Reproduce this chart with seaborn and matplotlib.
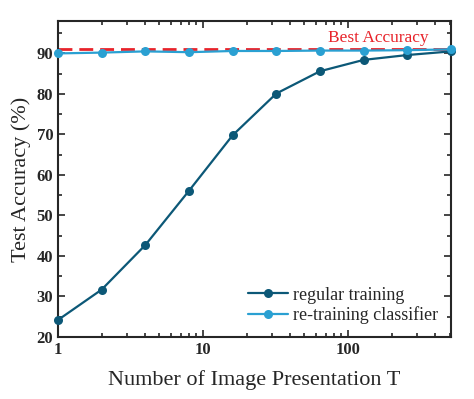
import numpy as np
import pandas as pd
import matplotlib
matplotlib.use("Agg")
import matplotlib.pyplot as plt
import seaborn as sns
from matplotlib.ticker import FixedLocator, NullFormatter

# data
T = [1, 2, 4, 8, 16, 32, 64, 128, 256, 512]
regular = [24.2, 31.7, 42.7, 56.1, 69.8, 80.1, 85.6, 88.4, 89.6, 90.5]
retrain = [90.0, 90.2, 90.5, 90.3, 90.6, 90.6, 90.7, 90.7, 90.8, 91.0]
best_acc = 91.0

df = pd.DataFrame({"T": T * 2,
                   "acc": regular + retrain,
                   "method": ["regular training"] * len(T) + ["re-training classifier"] * len(T)})

sns.set_style("ticks")
plt.rcParams["font.family"] = ["Liberation Serif", "DejaVu Serif"]

fig = plt.figure(figsize=(4.74, 3.99), dpi=100)
ax = fig.add_axes([58 / 474, 62 / 399, 393 / 474, 316 / 399])

ax.axhline(best_acc, color="#e8232a", ls=(0, (5, 2.5)), lw=2, zorder=1)
sns.lineplot(data=df, x="T", y="acc", hue="method",
             palette=["#0c5877", "#2aa0d2"], marker="o", markersize=6.5,
             markeredgewidth=0, lw=1.6, ax=ax, zorder=3, clip_on=False)

ax.set_xscale("log")
ax.set_xlim(1, 512)
ax.set_ylim(20, 98)
ax.set_xticks([1, 10, 100])
ax.set_xticklabels(["1", "10", "100"])
ax.xaxis.set_minor_locator(FixedLocator([k * 10 ** d for d in range(3) for k in range(2, 10) if k * 10 ** d < 512]))
ax.xaxis.set_minor_formatter(NullFormatter())
ax.set_yticks([20, 30, 40, 50, 60, 70, 80, 90])
ax.yaxis.set_minor_locator(FixedLocator(np.arange(25, 98, 10)))

ax.tick_params(which="both", direction="in", top=True, right=True, width=1.2)
ax.tick_params(which="major", length=5, labelsize=12)
ax.tick_params(which="minor", length=3)
for lab in ax.get_xticklabels() + ax.get_yticklabels():
    lab.set_fontweight("bold")
for sp in ax.spines.values():
    sp.set_linewidth(1.5)

ax.set_xlabel("Number of Image Presentation T", fontsize=16, labelpad=9)
ax.set_ylabel("Test Accuracy (%)", fontsize=16, labelpad=4)
ax.text(161, 93.8, "Best Accuracy", color="#e8232a", fontsize=12.5, ha="center", va="center")

leg = ax.legend(loc="lower right", frameon=False, fontsize=13, handlelength=2.2,
                handletextpad=0.3, borderaxespad=0.3, labelspacing=0.15)

fig.savefig("out.png", dpi=100)
